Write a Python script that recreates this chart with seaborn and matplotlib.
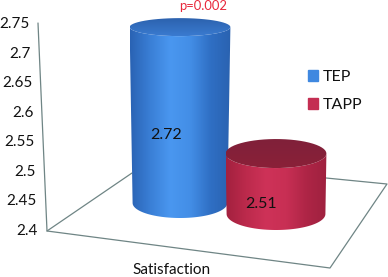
#!/usr/bin/env python3
import numpy as np
import matplotlib
matplotlib.use('Agg')
import matplotlib.pyplot as plt
from matplotlib.colors import LinearSegmentedColormap
from matplotlib.patches import PathPatch, Rectangle
from matplotlib.path import Path
import seaborn as sns

groups = ['TEP', 'TAPP']
scores = [2.72, 2.51]
tick_values = [2.4, 2.45, 2.5, 2.55, 2.6, 2.65, 2.7, 2.75]
tick_labels = ['2.4', '2.45', '2.5', '2.55', '2.6', '2.65', '2.7', '2.75']
p_label = 'p=0.002'
x_label = 'Satisfaction'

sns.set_theme(style='white')
plt.rcParams['font.family'] = ['Lato', 'DejaVu Sans']

W, H = 388, 277
fig = plt.figure(figsize=(W / 100, H / 100), dpi=100)
ax = fig.add_axes([0, 0, 1, 1])

# y axis keeps score units, x is the category position
ax_px = 591.0  # pixels per score unit on the back wall
y0_px = 231.0  # pixel row of 2.4


def px_x(p):
    return (p - 180) / 96


def px_y(p):
    return 2.4 + (y0_px - p) / ax_px


sns.barplot(x=groups, y=scores, hue=groups, order=groups, hue_order=groups,
            palette=['#3F88E0', '#C42E52'], width=1.05, legend=False, ax=ax)
ax.axis('off')

# floor and wall lines
edge = '#6F8585'
ax.plot([px_x(38), px_x(47), px_x(330), px_x(387), px_x(326)],
        [px_y(23), px_y(231), px_y(268), px_y(184), px_y(178)], color=edge, lw=0.9, zorder=1)
ax.plot([px_x(47), px_x(132)], [px_y(231), px_y(173)], color=edge, lw=0.9, zorder=1)

shade_stops = {
    'TEP': ['#2A63B4', '#3A7FD6', '#4A97F0', '#438EE6', '#2F6FC4', '#2A62B0'],
    'TAPP': ['#A3213F', '#BC2A4C', '#CE3258', '#C82F54', '#AE2546', '#9F213F'],
}
lid_stops = {'TEP': ['#3A7BD0', '#2C62AE'], 'TAPP': ['#8A2138', '#80203A']}
floor_px = {'TEP': 203.0, 'TAPP': 214.0}
taper = {'TEP': 3.0, 'TAPP': 1.0}
lid_b = {'TEP': 9.0, 'TAPP': 14.5}
base_b = {'TEP': 15.0, 'TAPP': 16.0}
label_px = {'TEP': (166, 135), 'TAPP': (261, 204)}
bar_scale = 0.93


def ellipse_pts(cx, cy, a, b, t0, t1, n=60):
    t = np.linspace(t0, t1, n)
    return np.column_stack([cx + a * np.cos(t), cy + b * np.sin(t)])


def gradient_fill(outline, cmap, extent, z, vertical=False):
    clip = PathPatch(Path(np.vstack([outline, outline[:1]])), transform=ax.transData,
                     fc='none', ec='none')
    ax.add_patch(clip)
    ramp = np.linspace(0, 1, 200)
    ramp = ramp.reshape(-1, 1) if vertical else ramp.reshape(1, -1)
    im = ax.imshow(ramp, cmap=cmap, aspect='auto', extent=extent, origin='lower', zorder=z)
    im.set_clip_path(clip)


# draw the barplot bars again as cylinders
for bar, name, val in zip(ax.patches, groups, scores):
    bar.set_visible(False)
    left = bar.get_x()
    right = left + bar.get_width()
    cx = (left + right) / 2
    a = (right - left) / 2
    bt = lid_b[name] / ax_px
    bb = base_b[name] / ax_px
    bottom = px_y(floor_px[name])
    top = bottom + (val - 2.4) * bar_scale
    z = 2 + groups.index(name)
    side = np.vstack([
        ellipse_pts(cx, top, a, bt, np.pi, 2 * np.pi),
        ellipse_pts(cx, bottom, a - taper[name] / 96, bb, 0, -np.pi),
    ])
    gradient_fill(side, LinearSegmentedColormap.from_list(name, shade_stops[name]),
                  [left, right, bottom - bb, top + bt], z)
    lid = ellipse_pts(cx, top, a, bt, 0, 2 * np.pi)
    gradient_fill(lid, LinearSegmentedColormap.from_list(name + '_lid', lid_stops[name]),
                  [left, right, top - bt, top + bt], z + 0.5, vertical=True)
    lx, ly = label_px[name]
    ax.text(px_x(lx), px_y(ly), f'{val:.2f}', ha='center', va='center',
            fontsize=11.5, color='#111111', zorder=5)

# tick labels follow the slanted axis
for v, lab in zip(tick_values, tick_labels):
    xp = 38 - (v - 2.4) / 0.35 * 8
    ax.text(px_x(xp), v, lab, ha='right', va='center', fontsize=11, color='#111111')

ax.text(px_x(203), px_y(6), p_label, ha='center', va='center', fontsize=9.4, color='#E8283C')
ax.text(px_x(172), px_y(270), x_label, ha='center', va='center', fontsize=11, color='#111111')

handles = [Rectangle((0, 0), 1, 1, color=c) for c in ['#3F88E0', '#C42E52']]
ax.legend(handles, groups, loc='upper left', bbox_to_anchor=(308 / W, 1 - 70 / H), frameon=False,
          fontsize=11.5, borderpad=0, borderaxespad=0, handlelength=0.62, handleheight=0.62,
          handletextpad=0.3, labelspacing=0.88, labelcolor='#111111')

ax.set_xlim(px_x(0), px_x(W))
ax.set_ylim(px_y(H), px_y(0))

fig.savefig('out.png', dpi=100)
